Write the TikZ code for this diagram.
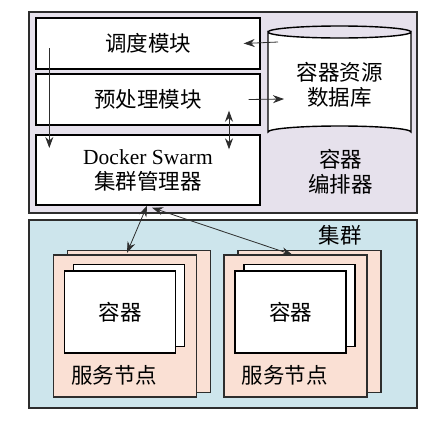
\documentclass[tikz,border=0pt]{standalone}
\usepackage{fontspec}
\setmainfont{Liberation Serif}
\newfontfamily\cjk{Noto Sans CJK SC}
\usetikzlibrary{arrows.meta}
\definecolor{orchbg}{RGB}{230,225,236}
\definecolor{clusterbg}{RGB}{205,229,236}
\definecolor{nodebg}{RGB}{250,224,212}
\definecolor{edge}{RGB}{45,45,45}

\begin{document}
\begin{tikzpicture}[x=1pt,y=-1pt,
	outerbox/.style={draw=edge, line width=1.8pt, inner sep=0pt},
	innerbox/.style={draw=black, line width=1.4pt, fill=white, inner sep=0pt},
	nodebox/.style={draw=edge, line width=1.4pt, fill=nodebg, inner sep=0pt, minimum width=143pt, minimum height=142pt},
	ctbox/.style={draw=black, line width=1.4pt, fill=white, inner sep=0pt, minimum width=111pt, minimum height=82pt},
	txt/.style={font=\cjk\fontsize{21.5}{25}\selectfont, align=center, inner sep=0pt},
	conn/.style={draw=edge, line width=0.8pt, -{Stealth[length=11pt,width=8pt]}},
	bidir/.style={draw=edge, line width=0.8pt, {Stealth[length=11pt,width=8pt]}-{Stealth[length=11pt,width=8pt]}}]
	\useasboundingbox (0,0) rectangle (447,426);
	% container orchestrator
	\node[outerbox, fill=orchbg, minimum width=388pt, minimum height=201pt] (orch) at (223,112.5) {};
	\node[innerbox, minimum width=224pt, minimum height=51pt] (sched) at (148,43.5) {};
	\node[txt] at (sched) {调度模块};
	\node[innerbox, minimum width=224pt, minimum height=51pt] (prep) at (148,99.5) {};
	\node[txt] at (prep) {预处理模块};
	\node[innerbox, minimum width=224pt, minimum height=70pt] (docker) at (148,170) {};
	\node[txt] at (docker) {\rmfamily Docker Swarm\\集群管理器};
	% resource database
	\draw[draw=black, line width=1.4pt, fill=white] (268,32) -- (268,132)
		arc[start angle=180, end angle=360, x radius=71.5, y radius=6] -- (411,32)
		arc[start angle=0, end angle=180, x radius=71.5, y radius=6] -- cycle;
	\draw[line width=1.4pt] (268,32) arc[start angle=180, end angle=360, x radius=71.5, y radius=6];
	\coordinate (dbw) at (268,84);
	\node[txt] (db) at (339.5,84.5) {容器资源\\数据库};
	\node[txt] (orchlabel) at (340.5,171.5) {容器\\编排器};
	% cluster
	\node[outerbox, fill=clusterbg, minimum width=388pt, minimum height=188pt] (cluster) at (223,314) {};
	\node[txt] (clusterlabel) at (340,235) {集群};
	\foreach \n/\x in {1/125,2/295.5} {
		\node[nodebox] (back\n) at (\x+14,321.5) {};
		\node[nodebox] (node\n) at (\x,326) {};
		\node[ctbox] (ctback\n) at (\x+4,305.5) {};
		\node[ctbox] (ct\n) at (\x-5,312) {};
		\node[txt] at (ct\n) {容器};
		\node[txt] at (\x-11,375) {服务节点};
	}
	% connectors
	\draw[conn] ([shift={(10,-42)}]dbw) -- ([xshift=-17pt]sched.east);
	\draw[conn] ([xshift=-12pt]prep.east) -- ([shift={(16,15)}]dbw);
	\draw[conn] ([shift={(14,4.5)}]sched.west) -- ([shift={(14,-22)}]docker.west);
	\draw[bidir] ([shift={(81,-15)}]prep.south) -- ([shift={(81,15)}]docker.north);
	\draw[bidir] ([xshift=-1pt]docker.south) -- ([shift={(-12,3)}]back1.north);
	\draw[bidir] ([shift={(4,2)}]docker.south) -- ([shift={(-17,5)}]back2.north);
\end{tikzpicture}
\end{document}
